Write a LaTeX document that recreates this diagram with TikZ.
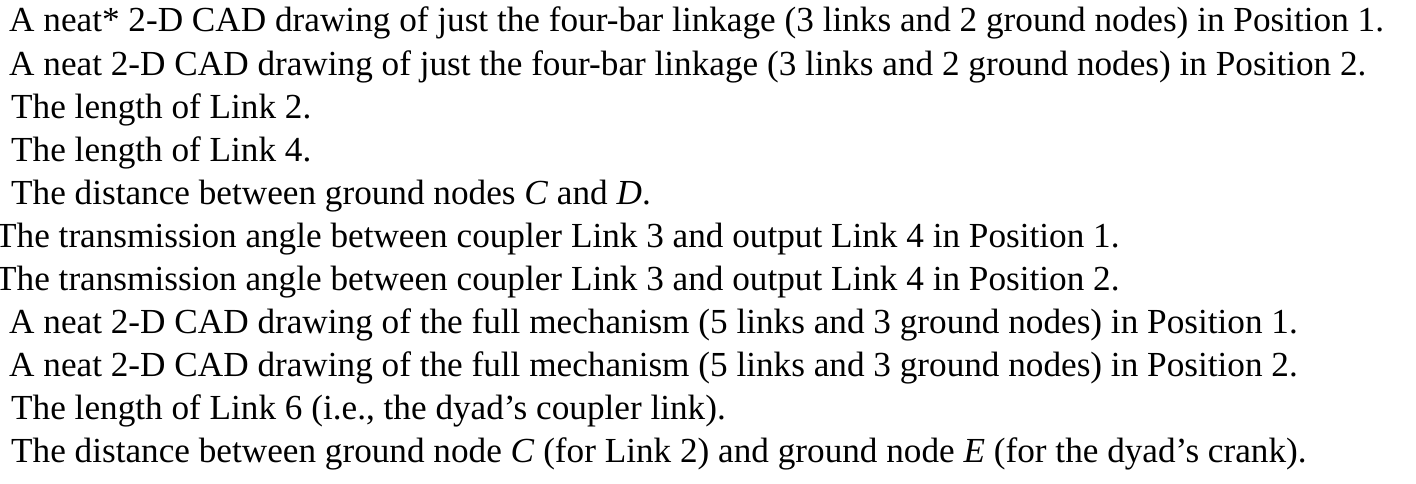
\documentclass[tikz,border=0pt]{standalone}
\usepackage{fontspec}
\setmainfont{Liberation Serif}
\begin{document}
\begin{tikzpicture}[x=1pt,y=1pt,txt/.style={anchor=base west,inner sep=0pt,font=\fontsize{35.2}{40}\selectfont}]
\useasboundingbox (0,0) rectangle (1416,484);
\node[txt] (l1) at (9,452) {A neat* 2-D CAD drawing of just the four-bar linkage (3 links and 2 ground nodes) in Position 1.};
\node[txt] (l2) at (9,408.9) {A neat 2-D CAD drawing of just the four-bar linkage (3 links and 2 ground nodes) in Position 2.};
\node[txt] (l3) at (11,365.8) {The length of Link 2.};
\node[txt] (l4) at (11,322.7) {The length of Link 4.};
\node[txt] (l5) at (11,279.6) {The distance between ground nodes \textit{C} and \textit{D}.};
\node[txt] (l6) at (-5,236.5) {The transmission angle between coupler Link 3 and output Link 4 in Position 1.};
\node[txt] (l7) at (-5,193.4) {The transmission angle between coupler Link 3 and output Link 4 in Position 2.};
\node[txt] (l8) at (9,150.3) {A neat 2-D CAD drawing of the full mechanism (5 links and 3 ground nodes) in Position 1.};
\node[txt] (l9) at (9,107.2) {A neat 2-D CAD drawing of the full mechanism (5 links and 3 ground nodes) in Position 2.};
\node[txt] (l10) at (11,64.1) {The length of Link 6 (i.e., the dyad’s coupler link).};
\node[txt] (l11) at (11,21) {The distance between ground node \textit{C} (for Link 2) and ground node \textit{E} (for the dyad’s crank).};
\end{tikzpicture}
\end{document}
